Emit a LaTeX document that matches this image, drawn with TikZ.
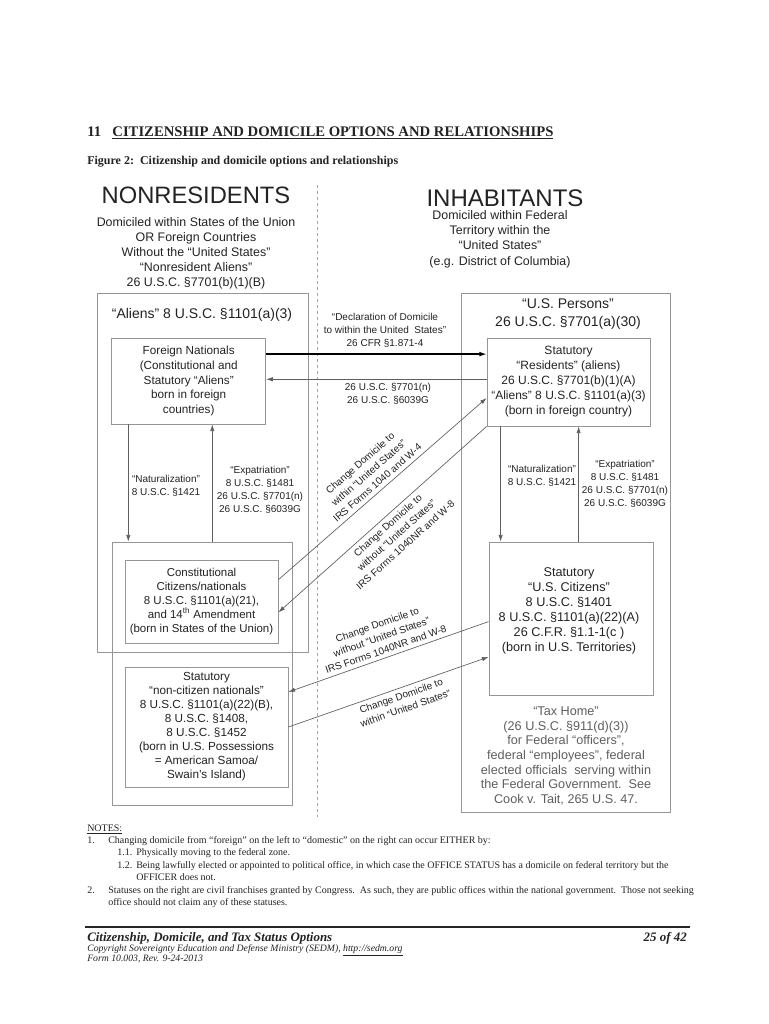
\documentclass[tikz,border=0pt]{standalone}
\usepackage{fontspec}
\setmainfont{Liberation Serif}
\setsansfont{Liberation Sans}
\usepackage{tikz}
\usetikzlibrary{arrows.meta, positioning, calc}
\definecolor{boxline}{RGB}{150,150,150}
\definecolor{arrowline}{RGB}{95,95,95}
\definecolor{boxtext}{RGB}{35,35,35}
\definecolor{taxtext}{RGB}{95,95,95}
\definecolor{divline}{RGB}{165,165,165}
\newcommand{\fs}[2]{\fontsize{#1}{#2}\selectfont}

\begin{document}
\begin{tikzpicture}[x=0.75pt, y=-0.75pt,
    every node/.style={inner sep=0pt, text=boxtext},
    frame/.style={draw=boxline, line width=0.6pt, align=center,
                  font=\sffamily\fs{8.8}{10.9}},
    note/.style={font=\sffamily\fs{7.5}{9.8}, align=center},
    link/.style={draw=arrowline, line width=0.5pt,
                 -{Latex[length=5pt,width=3.2pt]}},
    linkback/.style={draw=arrowline, line width=0.5pt,
                 {Latex[length=5pt,width=3.2pt]}-},
    mainlink/.style={draw=black, line width=0.9pt,
                 -{Latex[length=5.5pt,width=3.6pt]}},
    notetext/.style={anchor=base west, font=\fs{7.5}{9}}
]
\fill[white] (0,0) rectangle (768,1024);
\useasboundingbox (0,0) rectangle (768,1024);

% --- Page headings ---
\node[anchor=west, font=\bfseries\fs{11}{13}] (sec) at (87,133)
    {11\hspace{8.5pt}\underline{CITIZENSHIP AND DOMICILE OPTIONS AND RELATIONSHIPS}};
\node[anchor=west, font=\bfseries\fs{9}{10}] (fig) at (87,162)
    {Figure 2:\ \ Citizenship and domicile options and relationships};

% --- Column headings ---
\node[font=\sffamily\fs{17.8}{19}] (nonres) at (196,195) {NONRESIDENTS};
\node[font=\sffamily\fs{18}{20}] (inhab) at (505,198) {INHABITANTS};
\node[font=\sffamily\fs{9.3}{11.25}, align=center] (nonsub) at (196,253)
    {Domiciled within States of the Union\\OR Foreign Countries\\Without the “United States”\\“Nonresident Aliens”\\26 U.S.C. §7701(b)(1)(B)};
\node[font=\sffamily\fs{9.3}{11.4}, align=center] (inhsub) at (500,239)
    {Domiciled within Federal\\Territory within the\\“United States”\\(e.g. District of Columbia)};
\draw[divline, line width=0.5pt, dash pattern=on 2.5pt off 2pt] (317,185) -- (317,817);

% --- Left column: nonresidents ---
\node[frame, minimum width=158.25pt, minimum height=269.25pt] (aliens) at (202.5,472.5) {};
\node[font=\sffamily\fs{10.5}{12}] (alienst) at (202,315) {“Aliens” 8 U.S.C. §1101(a)(3)};
\node[frame, minimum width=115.5pt, minimum height=64.5pt] (foreign) at (188.7,381)
    {Foreign Nationals\\(Constitutional and\\Statutory “Aliens”\\born in foreign\\countries)};
\node[frame, minimum width=135pt, minimum height=197.25pt] (citouter) at (202,673.5) {};
\node[frame, font=\sffamily\fs{8.6}{10.5}, minimum width=114.75pt, minimum height=62.25pt]
    (const) at (201.5,601.5)
    {Constitutional\\Citizens/nationals\\8 U.S.C. §1101(a)(21),\\and 14\textsuperscript{th} Amendment\\(born in States of the Union)};
\node[frame, font=\sffamily\fs{8.8}{10.5}, minimum width=122.25pt, minimum height=90pt]
    (noncit) at (206.5,727)
    {Statutory\\“non-citizen nationals”\\8 U.S.C. §1101(a)(22)(B),\\8 U.S.C. §1408,\\8 U.S.C. §1452\\(born in U.S. Possessions\\= American Samoa/\\Swain’s Island)};

% --- Right column: inhabitants ---
\node[frame, minimum width=156.75pt, minimum height=389.25pt] (persons) at (565.5,552.5) {};
\node[font=\sffamily\fs{10.5}{13.5}, align=center] (personst) at (568,314)
    {“U.S. Persons”\\26 U.S.C. §7701(a)(30)};
\node[frame, font=\sffamily\fs{9}{11.25}, minimum width=122.25pt, minimum height=66pt]
    (resid) at (568.5,382)
    {Statutory\\“Residents” (aliens)\\26 U.S.C. §7701(b)(1)(A)\\“Aliens” 8 U.S.C. §1101(a)(3)\\(born in foreign country)};
\node[frame, minimum width=123pt, minimum height=114.75pt] (uscit) at (571,618.5) {};
\node[font=\sffamily\fs{9.5}{11.25}, align=center] (uscitt) at (569,610.5)
    {Statutory\\“U.S. Citizens”\\8 U.S.C. §1401\\8 U.S.C. §1101(a)(22)(A)\\26 C.F.R. §1.1-1(c )\\(born in U.S. Territories)};
\node[font=\sffamily\fs{9.5}{11}, align=center, text=taxtext] (taxhome) at (566,756)
    {“Tax Home”\\(26 U.S.C. §911(d)(3))\\for Federal “officers”,\\federal “employees”, federal\\elected officials\ \ serving within\\the Federal Government.\ \ See\\Cook v. Tait, 265 U.S. 47.};

% --- Declaration arrows ---
\coordinate (declA) at ($(foreign.north east)!0.19!(foreign.south east)$);
\coordinate (declB) at ($(foreign.north east)!0.48!(foreign.south east)$);
\draw[mainlink] (declA) -- (declA -| resid.west);
\draw[link] (declB -| resid.west) -- (declB);
\node[note] (decllbl) at (385,330)
    {“Declaration of Domicile\\to within the United\ \ States”\\26 CFR §1.871-4};
\node[note] (revlbl) at (388,394) {26 U.S.C. §7701(n)\\26 U.S.C. §6039G};

% --- Naturalization / expatriation ---
\coordinate (natA) at ([xshift=12.75pt]foreign.south west);
\coordinate (expA) at ([xshift=75.75pt]foreign.south west);
\draw[link] (natA) -- (natA |- citouter.north);
\draw[link] (expA |- citouter.north) -- (expA);
\node[note] (natlblA) at (166,486) {“Naturalization”\\8 U.S.C. §1421};
\node[note] (explblA) at (260,490)
    {“Expatriation”\\8 U.S.C. §1481\\26 U.S.C. §7701(n)\\26 U.S.C. §6039G};

\coordinate (natB) at ([xshift=10.5pt]resid.south west);
\coordinate (expB) at ([xshift=69pt]resid.south west);
\draw[link] (natB) -- (natB |- uscit.north);
\draw[link] (expB |- uscit.north) -- (expB);
\node[note] (natlblB) at (542,476) {“Naturalization”\\8 U.S.C. §1421};
\node[note] (explblB) at (625,484)
    {“Expatriation”\\8 U.S.C. §1481\\26 U.S.C. §7701(n)\\26 U.S.C. §6039G};

% --- Change of domicile ---
\coordinate (cA) at ($(const.north east)!0.24!(const.south east)$);
\coordinate (cB) at ($(const.north east)!0.63!(const.south east)$);
\coordinate (rA) at ($(resid.north west)!0.68!(resid.south west)$);
\draw[link] (cA) -- node[note, sloped, above=3pt] (dom1)
    {Change Domicile to\\within “United States”\\IRS Forms 1040 and W-4} (rA);
\draw[linkback] (cB) -- node[note, sloped, below=3pt] (dom2)
    {Change Domicile to\\without “United States”\\IRS Forms 1040NR and W-8} (resid.south west);

\coordinate (nA) at ($(noncit.north east)!0.21!(noncit.south east)$);
\coordinate (uA) at ($(uscit.north west)!0.52!(uscit.south west)$);
\coordinate (uB) at ($(uscit.north west)!0.75!(uscit.south west)$);
\draw[linkback] (nA) -- node[note, sloped, above=3pt] (dom3)
    {Change Domicile to\\without “United States”\\IRS Forms 1040NR and W-8} (uA);
\draw[link] (noncit.east) -- node[note, sloped, below=3pt, pos=0.55] (dom4)
    {Change Domicile to\\within “United States”} (uB);

% --- Notes ---
\node[notetext] (notes) at (87,831) {\underline{NOTES:}};
\node[notetext] (n1) at (87,843) {1.};
\node[notetext] (n1t) at (108,843)
    {Changing domicile from “foreign” on the left to “domestic” on the right can occur EITHER by:};
\node[notetext] (n11) at (117,855.5) {1.1.};
\node[notetext] (n11t) at (136,855.5) {Physically moving to the federal zone.};
\node[notetext] (n12) at (117,868) {1.2.};
\node[notetext] (n12t) at (136,868)
    {Being lawfully elected or appointed to political office, in which case the OFFICE STATUS has a domicile on federal territory but the};
\node[notetext] (n12u) at (136,880) {OFFICER does not.};
\node[notetext] (n2) at (87,893) {2.};
\node[notetext] (n2t) at (108,893)
    {Statuses on the right are civil franchises granted by Congress.\ \ As such, they are public offices within the national government.\ \ Those not seeking};
\node[notetext] (n2u) at (108,905) {office should not claim any of these statuses.};

% --- Footer ---
\coordinate (footL) at (85,927);
\coordinate (footR) at (690,927);
\draw[black!85, line width=1.5pt] (footL) -- (footR);
\node[anchor=base west, font=\bfseries\itshape\fs{9.7}{10}] (foot1) at (87,941)
    {Citizenship, Domicile, and Tax Status Options};
\node[anchor=base east, font=\bfseries\itshape\fs{9.7}{10}] (pg) at (687,941) {25 of 42};
\node[anchor=base west, font=\itshape\fs{7.3}{9}] (foot2) at (87,951.5)
    {Copyright Sovereignty Education and Defense Ministry (SEDM), \underline{http://sedm.org}};
\node[anchor=base west, font=\itshape\fs{7.3}{9}] (foot3) at (87,961.5) {Form 10.003, Rev. 9-24-2013};
\end{tikzpicture}
\end{document}
